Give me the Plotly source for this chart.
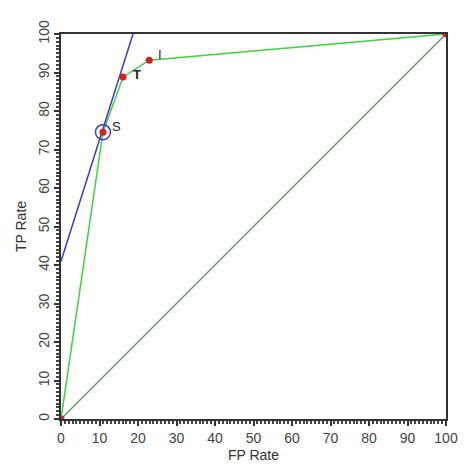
import plotly.graph_objects as go

# ROC points (FP rate, TP rate) in percent
roc_fp = [0, 10.9, 16.1, 22.9, 100]
roc_tp = [0, 74.5, 88.8, 93.2, 100]
roc_labels = ['', 'S', 'T', 'I', '']

# random-guess diagonal
diag_fp = [0, 100]
diag_tp = [0, 100]

# iso-performance line touching S
iso_fp = [0, 18.7]
iso_tp = [41, 100]

sel_fp = [10.9]
sel_tp = [74.5]

FONT = 'Liberation Sans, Arial, sans-serif'

fig = go.Figure()
fig.add_trace(go.Scatter(x=diag_fp, y=diag_tp, mode='lines',
                         line=dict(color='#6a946a', width=1.5)))
fig.add_trace(go.Scatter(x=roc_fp, y=roc_tp, mode='lines',
                         line=dict(color='#3fd13f', width=1.5)))
fig.add_trace(go.Scatter(x=iso_fp, y=iso_tp, mode='lines',
                         line=dict(color='#3a3acc', width=1.5)))
fig.add_trace(go.Scatter(x=sel_fp, y=sel_tp, mode='markers',
                         marker=dict(symbol='circle-open', size=15,
                                     color='#3a3acc', line=dict(width=1.5))))
fig.add_trace(go.Scatter(x=roc_fp, y=roc_tp, mode='markers',
                         marker=dict(color='#d42020', size=7)))

# point labels
offsets = {'S': (1.8, 1.5), 'T': (2.2, 0.8), 'I': (1.8, 1.6)}
for fx, ty, lab in zip(roc_fp, roc_tp, roc_labels):
    if not lab:
        continue
    dx, dy = offsets[lab]
    txt = '<b>%s</b>' % lab if lab == 'T' else lab
    fig.add_annotation(x=fx + dx, y=ty + dy, text=txt, showarrow=False,
                       xanchor='left', yanchor='middle',
                       font=dict(size=13, color='#222', family=FONT))

axis_common = dict(
    range=[0, 100], dtick=10, ticks='outside', ticklen=5, tickwidth=1.5,
    tickcolor='#333', showline=True, linecolor='#333', linewidth=1.5,
    mirror=True, showgrid=False, zeroline=False,
    minor=dict(dtick=1, ticks='outside', ticklen=3, tickcolor='#444'),
    tickfont=dict(size=14, color='#444'),
)

fig.update_xaxes(title=dict(text='FP Rate', font=dict(size=14, color='#333'), standoff=6),
                 **axis_common)
fig.update_yaxes(title=dict(text='TP Rate', font=dict(size=14, color='#333'), standoff=6),
                 tickangle=-90, **axis_common)

fig.update_layout(
    width=474, height=474,
    margin=dict(l=53, r=36, t=26, b=63),
    plot_bgcolor='white', paper_bgcolor='white',
    showlegend=False,
    font=dict(family=FONT),
)

fig.write_html('out.html')
